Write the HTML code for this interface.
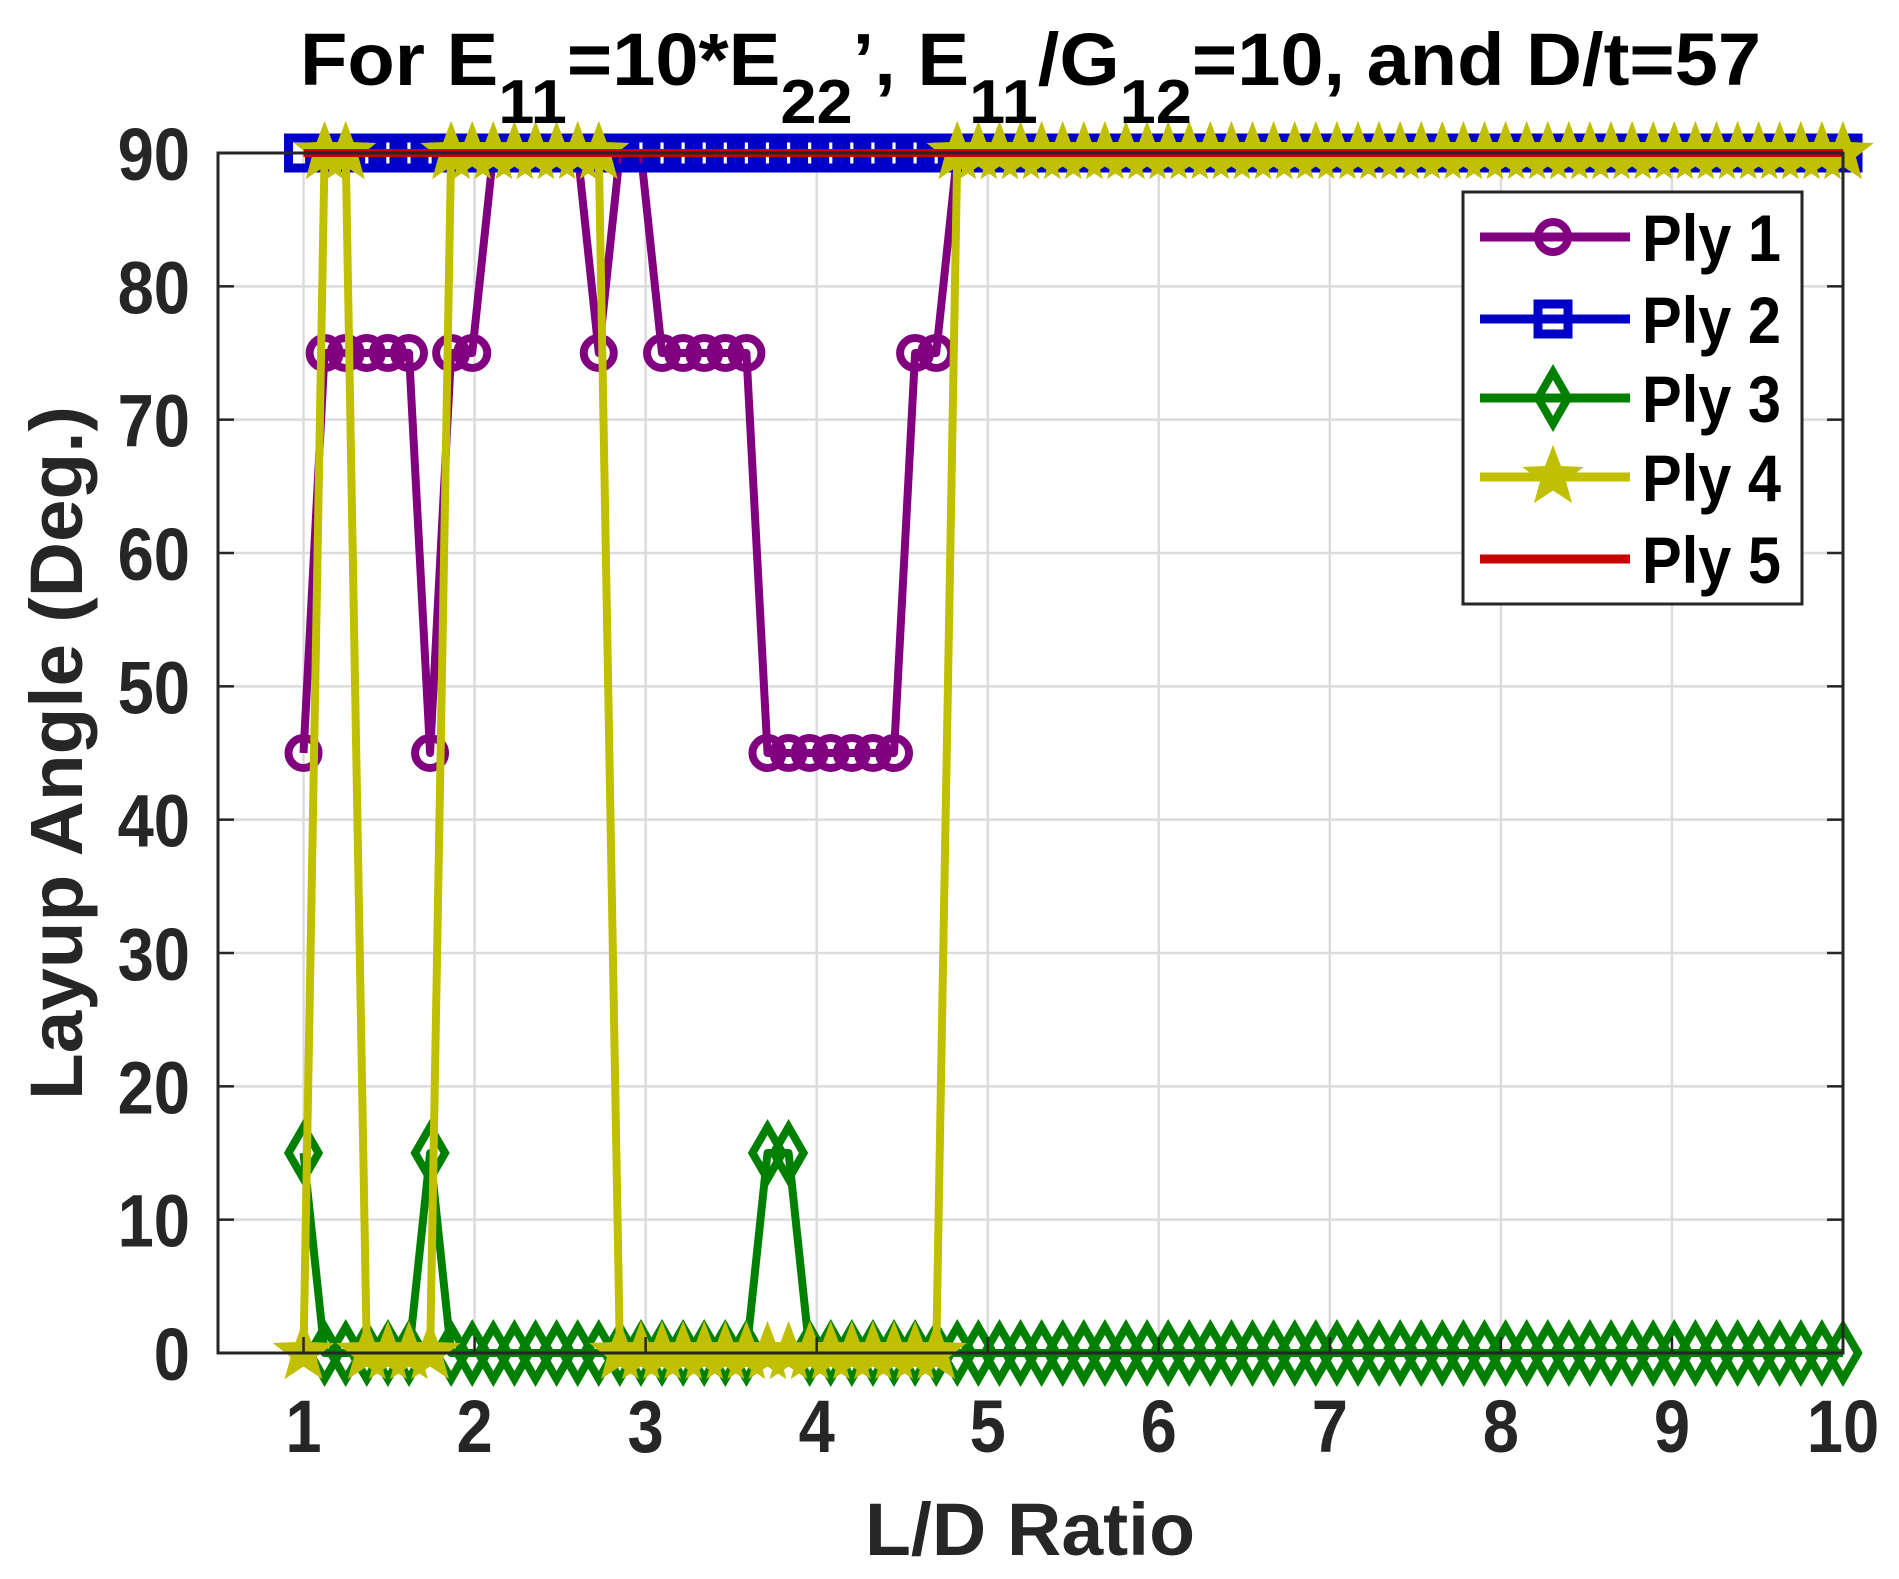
<!DOCTYPE html>
<html><head><meta charset="utf-8"><style>
html,body{margin:0;padding:0;background:#fff;}
svg{display:block;}
text{font-family:"Liberation Sans",Arial,sans-serif;font-weight:bold;}
</style></head><body>
<svg id="s" width="1899" height="1579" viewBox="0 0 1899 1579" xmlns="http://www.w3.org/2000/svg">
<rect width="1899" height="1579" fill="#fff"/>
<g id="grid"></g>
<g id="series"></g>
<g id="axes"></g>
<text x="300" y="85" font-size="74" textLength="1461" lengthAdjust="spacingAndGlyphs" fill="#000">For E<tspan dy="38" font-size="62">11</tspan><tspan dy="-38">=10*E</tspan><tspan dy="38" font-size="62">22</tspan><tspan dy="-38">’, E</tspan><tspan dy="38" font-size="62">11</tspan><tspan dy="-38">/G</tspan><tspan dy="38" font-size="62">12</tspan><tspan dy="-38">=10, and D/t=57</tspan></text>
<text x="1030" y="1555" font-size="74" text-anchor="middle" textLength="330" lengthAdjust="spacingAndGlyphs" fill="#262626">L/D Ratio</text>
<text transform="translate(82,753) rotate(-90)" font-size="74" text-anchor="middle" textLength="694" lengthAdjust="spacingAndGlyphs" fill="#262626">Layup Angle (Deg.)</text>
<g id="legend"></g>
</svg>
<script>
const NS="http://www.w3.org/2000/svg";
function el(p,t,a){const e=document.createElementNS(NS,t);for(const k in a)e.setAttribute(k,a[k]);p.appendChild(e);return e;}
const L=218,R=1843,T=153,B=1353;
const X=x=>L+(x-0.5)*(R-L)/9.5;
const Y=v=>B-v*(B-T)/90;
const grid=document.getElementById('grid'),axes=document.getElementById('axes'),ser=document.getElementById('series'),leg=document.getElementById('legend');
for(let k=1;k<=10;k++){const x=X(k);el(grid,'line',{x1:x,y1:T,x2:x,y2:B,stroke:'#dcdcdc','stroke-width':2.5});
 el(axes,'line',{x1:x,y1:B,x2:x,y2:B-16,stroke:'#262626','stroke-width':2.5});
 el(axes,'text',{x:x,y:1452,'font-size':74,'text-anchor':'middle',fill:'#262626',transform:`translate(${x} 0) scale(0.88 1) translate(${-x} 0)`}).textContent=k;}
for(let v=0;v<=90;v+=10){const y=Y(v);el(grid,'line',{x1:L,y1:y,x2:R,y2:y,stroke:'#dcdcdc','stroke-width':2.5});
 el(axes,'line',{x1:L,y1:y,x2:L+16,y2:y,stroke:'#262626','stroke-width':2.5});
 el(axes,'line',{x1:R,y1:y,x2:R-16,y2:y,stroke:'#262626','stroke-width':2.5});
 el(axes,'text',{x:190,y:y+27,'font-size':74,'text-anchor':'end',fill:'#262626',transform:`translate(190 0) scale(0.88 1) translate(-190 0)`}).textContent=v;}
el(axes,'rect',{x:L,y:T,width:R-L,height:B-T,fill:'none',stroke:'#262626','stroke-width':3});
const N=74,xs=[];for(let i=0;i<N;i++)xs.push(1+9*i/(N-1));
const p1=[],p2=[],p3=[],p4=[],p5=[];
for(let i=0;i<N;i++){
 let a=90;
 if(i==0||i==6)a=45;else if(i<=5||i==7||i==8)a=75;else if(i>=9&&i<=13)a=90;else if(i==14)a=75;else if(i<=16)a=90;else if(i<=21)a=75;else if(i<=28)a=45;else if(i<=30)a=75;
 p1.push(a);p2.push(90);p5.push(90);
 p3.push((i==0||i==6||i==22||i==23)?15:0);
 let b=90;if(i==0||(i>=3&&i<=6)||(i>=15&&i<=30))b=0;p4.push(b);
}
function pts(d){return d.map((v,i)=>X(xs[i]).toFixed(1)+','+Y(v).toFixed(1)).join(' ');}
function star(cx,cy,r){let s='';for(let k=0;k<10;k++){const rr=k%2?r*0.42:r;const a=-Math.PI/2+k*Math.PI/5;s+=(cx+rr*Math.cos(a)).toFixed(1)+','+(cy+rr*Math.sin(a)).toFixed(1)+' ';}return s;}
function marker(g,type,cx,cy,c){
 if(type=='o')el(g,'circle',{cx:cx,cy:cy,r:15,fill:'none',stroke:c,'stroke-width':8});
 else if(type=='s')el(g,'rect',{x:cx-15,y:cy-15,width:30,height:30,fill:'none',stroke:c,'stroke-width':9});
 else if(type=='d')el(g,'polygon',{points:`${cx},${cy-26} ${cx+15},${cy} ${cx},${cy+26} ${cx-15},${cy}`,fill:'none',stroke:c,'stroke-width':8});
 else if(type=='p')el(g,'polygon',{points:star(cx,cy,28),fill:c,stroke:c,'stroke-width':3});
}
const S=[[p1,'#800080','o'],[p2,'#0000c8','s'],[p3,'#008000','d'],[p4,'#c0bf00','p'],[p5,'#c80000','']];
S.forEach(([d,c,m])=>{
 el(ser,'polyline',{points:pts(d),fill:'none',stroke:c,'stroke-width':8,'stroke-linejoin':'round'});
 if(m)d.forEach((v,i)=>marker(ser,m,X(xs[i]),Y(v),c));
});
el(leg,'rect',{x:1463,y:192,width:339,height:412,fill:'#fff',stroke:'#262626','stroke-width':3});
const ly=[237,319,398,477,559];
S.forEach(([d,c,m],k)=>{
 el(leg,'line',{x1:1480,y1:ly[k],x2:1630,y2:ly[k],stroke:c,'stroke-width':9});
 if(m)marker(leg,m,1553,ly[k],c);
 el(leg,'text',{x:1642,y:ly[k]+24,'font-size':66,textLength:139,lengthAdjust:'spacingAndGlyphs',fill:'#000'}).textContent='Ply '+(k+1);
});
</script>
</body></html>
